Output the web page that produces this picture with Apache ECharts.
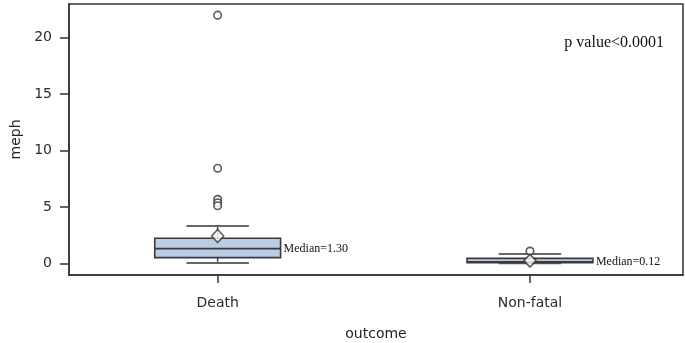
<!DOCTYPE html>
<html>
<head>
<meta charset="utf-8">
<script src="https://cdn.jsdelivr.net/npm/echarts@6/dist/echarts.min.js"></script>
<style>
  html, body { margin: 0; padding: 0; background: #fff; }
  #chart { width: 685px; height: 343px; }
</style>
</head>
<body>
<div id="chart"></div>
<script>
// categories and box statistics
var categories = ['Death', 'Non-fatal'];
var lowWhisker = [0.03, 0.0];
var q1 = [0.50, 0.05];
var median = [1.30, 0.12];
var q3 = [2.22, 0.43];
var highWhisker = [3.31, 0.82];
var means = [2.42, 0.23];
var medianLabels = ['Median=1.30', 'Median=0.12'];
// outliers as [category index, value]
var outliers = [[0, 22.0], [0, 8.42], [0, 5.67], [0, 5.37], [0, 5.10], [1, 1.08]];
var yTicks = [0, 5, 10, 15, 20];

var boxData = categories.map(function (c, i) {
  return [i, lowWhisker[i], q1[i], median[i], q3[i], highWhisker[i]];
});
var meanData = means.map(function (m, i) { return [i, m]; });

var chart = echarts.init(document.getElementById('chart'));

var axisFont = { fontFamily: 'DejaVu Sans', fontSize: 14, color: '#2a2a2a' };

chart.setOption({
  animation: false,
  grid: {
    left: 69, right: 2, top: 4, bottom: 68,
    containLabel: false,
    outerBoundsMode: 'none',
    show: true, borderColor: '#333', borderWidth: 1.5, backgroundColor: '#fff'
  },
  xAxis: {
    type: 'value',
    min: -0.476,
    max: 1.49,
    name: 'outcome',
    nameLocation: 'middle',
    nameGap: 52,
    nameTextStyle: { fontFamily: 'DejaVu Sans', fontSize: 14, color: '#222' },
    splitLine: { show: false },
    axisLine: { show: true, onZero: false, lineStyle: { color: '#333', width: 1.5 } },
    axisTick: { show: true, length: 8, customValues: [0, 1], lineStyle: { color: '#333', width: 1.5 } },
    axisLabel: Object.assign({
      margin: 21,
      customValues: [0, 1],
      formatter: function (v) { return categories[Math.round(v)]; }
    }, axisFont)
  },
  yAxis: {
    type: 'value',
    min: -1.04,
    max: 22.99,
    name: 'meph',
    nameLocation: 'middle',
    nameGap: 43,
    nameTextStyle: { fontFamily: 'DejaVu Sans', fontSize: 14, color: '#222' },
    splitLine: { show: false },
    axisLine: { show: true, onZero: false, lineStyle: { color: '#333', width: 1.5 } },
    axisTick: { show: true, length: 9, inside: false, customValues: yTicks, lineStyle: { color: '#333', width: 1.5 } },
    axisLabel: Object.assign({ margin: 17, customValues: yTicks }, axisFont)
  },
  graphic: [{
    type: 'text',
    right: 21,
    top: 35,
    style: {
      text: 'p value<0.0001',
      font: '16px "Liberation Serif"',
      fill: '#111'
    }
  }],
  series: [
    {
      type: 'custom',
      data: boxData,
      z: 2,
      renderItem: function (params, api) {
        var x = api.value(0);
        var pLow = api.coord([x, api.value(1)]);
        var pQ1 = api.coord([x, api.value(2)]);
        var pMed = api.coord([x, api.value(3)]);
        var pQ3 = api.coord([x, api.value(4)]);
        var pHigh = api.coord([x, api.value(5)]);
        var bw = api.size([0.403, 0])[0];
        var cw = api.size([0.2, 0])[0];
        var cx = pMed[0];
        var lineStyle = { stroke: '#555', lineWidth: 1.6 };
        return {
          type: 'group',
          children: [
            { type: 'line', shape: { x1: cx, y1: pHigh[1], x2: cx, y2: pQ3[1] }, style: lineStyle },
            { type: 'line', shape: { x1: cx, y1: pLow[1], x2: cx, y2: pQ1[1] }, style: lineStyle },
            { type: 'line', shape: { x1: cx - cw / 2, y1: pHigh[1], x2: cx + cw / 2, y2: pHigh[1] }, style: { stroke: '#666', lineWidth: 2 } },
            { type: 'line', shape: { x1: cx - cw / 2, y1: pLow[1], x2: cx + cw / 2, y2: pLow[1] }, style: { stroke: '#666', lineWidth: 2 } },
            {
              type: 'rect',
              shape: { x: cx - bw / 2, y: pQ3[1], width: bw, height: pQ1[1] - pQ3[1] },
              style: { fill: '#b9cde5', stroke: '#3a3a3a', lineWidth: 1.6 }
            },
            { type: 'line', shape: { x1: cx - bw / 2, y1: pMed[1], x2: cx + bw / 2, y2: pMed[1] }, style: { stroke: '#3a3a3a', lineWidth: 1.8 } },
            {
              type: 'text',
              x: cx + bw / 2 + 3,
              y: pMed[1],
              style: {
                text: medianLabels[params.dataIndex],
                font: '12px "Liberation Serif"',
                fill: '#111',
                verticalAlign: 'middle'
              }
            }
          ]
        };
      }
    },
    {
      type: 'scatter',
      data: outliers,
      z: 3,
      symbol: 'circle',
      symbolSize: 7.5,
      itemStyle: { color: '#fff', borderColor: '#333', borderWidth: 1.6 }
    },
    {
      type: 'scatter',
      data: meanData,
      z: 4,
      symbol: 'diamond',
      symbolSize: [12, 13],
      itemStyle: { color: '#fff', borderColor: '#333', borderWidth: 1.6 }
    }
  ]
});
</script>
</body>
</html>
